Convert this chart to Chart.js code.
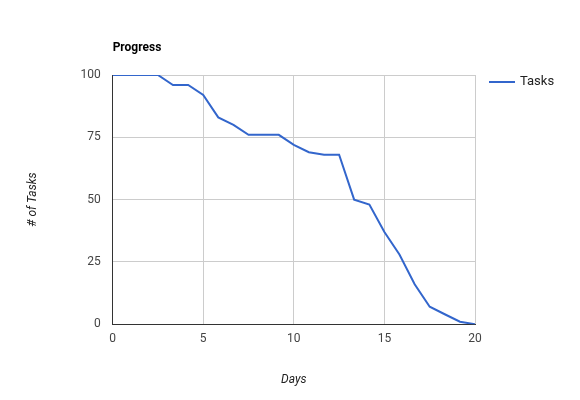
<!DOCTYPE html>
<html>
<head>
<script src="https://cdn.jsdelivr.net/npm/chart.js@4"></script>
<style>
  body { margin: 0; background: #fff; }
  #wrap { width: 580px; height: 400px; }
</style>
</head>
<body>
<div id="wrap"><canvas id="progressChart"></canvas></div>
<script>
// Remaining tasks per day
var days = [0, 2.5, 3.33, 4.17, 5, 5.83, 6.67, 7.5, 9.17, 10, 10.83, 11.67, 12.5, 13.33, 14.17, 15, 15.83, 16.67, 17.5, 18.33, 19.17, 20];
var tasks = [100, 100, 96, 96, 92, 83, 80, 76, 76, 72, 69, 68, 68, 50, 48, 37, 28, 16, 7, 4, 1, 0];
var xTicks = [0, 5, 10, 15, 20];
var yTicks = [0, 25, 50, 75, 100];
var chartTitle = "Progress";
var seriesName = "Tasks";

var points = days.map(function (d, i) { return { x: d, y: tasks[i] }; });

Chart.defaults.font.family = "Roboto, Arial, sans-serif";
Chart.defaults.font.size = 12;
Chart.defaults.color = "#444";

// title and legend aligned to the plot area, like the original
var sideBits = {
    id: "sideBits",
    afterDraw: function (chart) {
        var c = chart.ctx, a = chart.chartArea;
        c.save();
        c.fillStyle = "#000";
        c.font = "bold 12px Roboto, Arial, sans-serif";
        c.textBaseline = "alphabetic";
        c.fillText(chartTitle, a.left, a.top - 24);
        c.strokeStyle = "#3366cc";
        c.lineWidth = 2;
        c.beginPath();
        c.moveTo(a.right + 14, a.top + 7);
        c.lineTo(a.right + 40, a.top + 7);
        c.stroke();
        c.fillStyle = "#222";
        c.font = "13px Roboto, Arial, sans-serif";
        c.textBaseline = "middle";
        c.fillText(seriesName, a.right + 45, a.top + 7);
        c.restore();
    },
};

document.addEventListener("DOMContentLoaded", function () {
    var ctx = document.getElementById("progressChart").getContext("2d");

    new Chart(ctx, {
        type: "line",
        data: {
            datasets: [
                {
                    label: seriesName,
                    data: points,
                    borderColor: "#3366cc",
                    borderWidth: 2,
                    pointRadius: 0,
                    tension: 0,
                },
            ],
        },
        plugins: [sideBits],
        options: {
            responsive: true,
            maintainAspectRatio: false,
            animation: false,
            layout: { padding: { left: 22, right: 105, top: 75, bottom: 9 } },
            plugins: {
                legend: { display: false },
                tooltip: { enabled: false },
            },
            scales: {
                x: {
                    type: "linear",
                    min: 0,
                    max: 20,
                    afterBuildTicks: function (axis) { axis.ticks = xTicks.map(function (v) { return { value: v }; }); },
                    grid: { color: "#ccc", drawTicks: false },
                    border: { color: "#333" },
                    ticks: { padding: 8 },
                    title: { display: true, text: "Days", font: { style: "italic", size: 12 }, color: "#222", padding: { top: 18 } },
                },
                y: {
                    min: 0,
                    max: 100,
                    afterBuildTicks: function (axis) { axis.ticks = yTicks.map(function (v) { return { value: v }; }); },
                    grid: { color: "#ccc", drawTicks: false },
                    border: { color: "#333" },
                    ticks: { padding: 12 },
                    title: { display: true, text: "# of Tasks", font: { style: "italic", size: 12 }, color: "#222", padding: { bottom: 28 } },
                },
            },
        },
    });
});
</script>
</body>
</html>
